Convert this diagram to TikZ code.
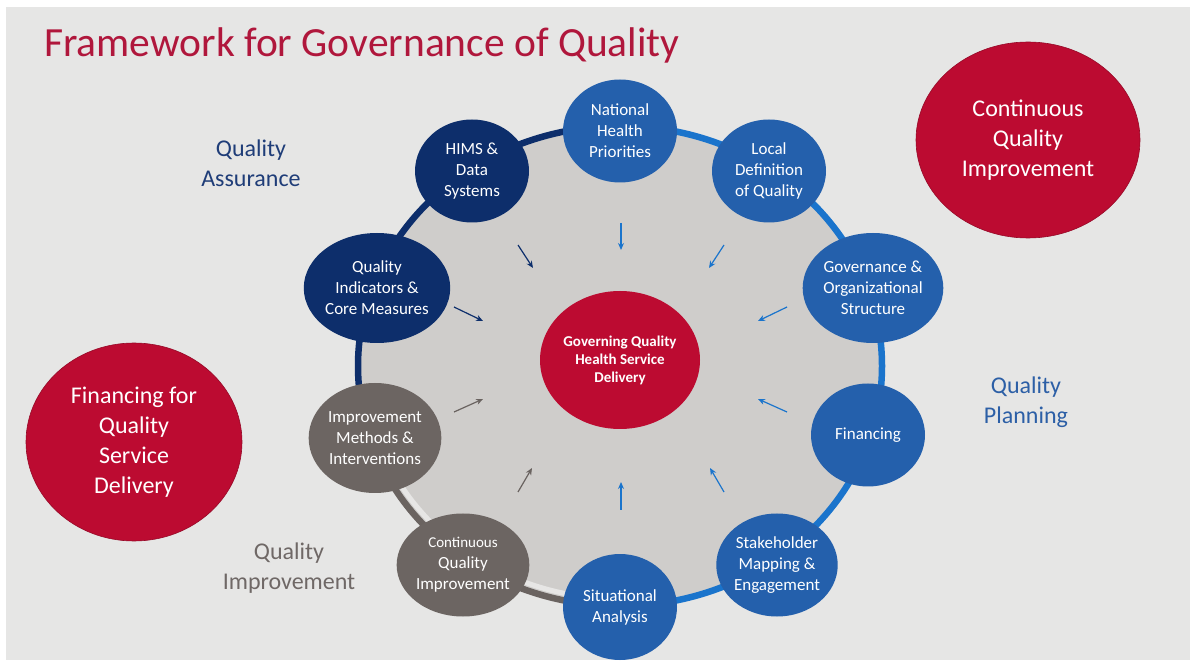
\documentclass[tikz,border=0pt]{standalone}
\usepackage{fontspec}
\setmainfont{Carlito}
\usetikzlibrary{shapes.geometric,arrows.meta}
\definecolor{bgpanel}{HTML}{E6E6E5}
\definecolor{discfill}{HTML}{CFCDCB}
\definecolor{navy}{HTML}{0D2E6B}
\definecolor{ringblue}{HTML}{1A74CC}
\definecolor{nodeblue}{HTML}{2460AC}
\definecolor{stone}{HTML}{6C6562}
\definecolor{ringstone}{HTML}{6A6360}
\definecolor{crimson}{HTML}{BC0B31}
\definecolor{titlered}{HTML}{B0173C}
\definecolor{qablue}{HTML}{1F3D78}
\definecolor{qpblue}{HTML}{2C5FA6}
\definecolor{qigray}{HTML}{6F6866}
\tikzset{
  petal/.style={ellipse, minimum width=114pt, minimum height=103pt, inner sep=0pt,
    text=white, align=center, font=\fontsize{17}{21}\selectfont},
  bigdisc/.style={ellipse, fill=crimson, draw=crimson!80!black, line width=0.6pt, inner sep=0pt,
    text=white, align=center, font=\fontsize{24}{30}\selectfont},
  sidelabel/.style={align=center, font=\fontsize{24}{30}\selectfont},
  ringline/.style={line width=6.5pt},
  arr/.style={line width=1.2pt, -{Stealth[length=7pt,width=6pt]}},
}
\begin{document}
\begin{tikzpicture}[x=1pt,y=1pt]
\useasboundingbox (0,0) rectangle (1200,670);
\fill[white] (0,0) rectangle (1200,670);
\fill[bgpanel] (6,10) rectangle (1190,663);

% title
\node[anchor=west, text=titlered, font=\fontsize{41.5}{46}\selectfont, inner sep=0pt] (title) at (44,625) {Framework for Governance of Quality};

% ring
\coordinate (C) at (620,304);
\fill[discfill] (C) ellipse[x radius=262pt, y radius=240pt];
\draw[white, opacity=0.5, line width=5pt] (C) ++(200:255pt and 233pt) arc[start angle=200, end angle=262, x radius=255pt, y radius=233pt];
\draw[ringline, ringblue] (C) ++(-90:262pt and 240pt) arc[start angle=-90, end angle=90, x radius=262pt, y radius=240pt];
\draw[ringline, navy] (C) ++(90:262pt and 240pt) arc[start angle=90, end angle=197, x radius=262pt, y radius=240pt];
\draw[ringline, ringstone] (C) ++(197:262pt and 240pt) arc[start angle=197, end angle=270, x radius=262pt, y radius=240pt];

% side labels
\node[sidelabel, text=qablue] (qa) at (251,507) {Quality\\Assurance};
\node[sidelabel, text=qpblue] (qp) at (1026,268) {Quality\\Planning};
\node[sidelabel, text=qigray] (qi) at (289,102) {Quality\\Improvement};

% big red discs
\node[bigdisc, minimum width=224pt, minimum height=196pt] (cqibig) at (1028,530) {Continuous\\Quality\\Improvement};
\node[bigdisc, minimum width=216pt, minimum height=198pt] (fin4q) at (134,228) {Financing for\\Quality\\Service\\Delivery};

% center
\node[ellipse, fill=crimson, minimum width=160pt, minimum height=138pt, inner sep=0pt, text=white, align=center,
  font=\fontsize{15}{18}\selectfont\bfseries] (core) at (620,310) {Governing Quality\\Health Service\\Delivery};

% arrows
\foreach \i/\ax/\ay/\bx/\by/\c in {
  1/518/425/533/402/navy, 2/621/447/621/420/ringblue, 3/724/425/709/402/ringblue,
  4/787/363/758/349/ringblue, 5/454/363/483/349/navy, 6/454/258/483/271/ringstone,
  7/787/258/758/271/ringblue, 8/518/178/532/202/ringstone, 9/621/160/621/188/ringblue,
  10/724/178/710/202/ringblue}{
  \coordinate (s\i) at (\ax,\ay);
  \coordinate (e\i) at (\bx,\by);
  \draw[arr, \c] (s\i) -- (e\i);
}

% petals
\node[petal, fill=nodeblue] (nhp) at (620,539) {National\\Health\\Priorities};
\node[petal, fill=nodeblue] (ldq) at (769,499) {Local\\Definition\\of Quality};
\node[petal, fill=nodeblue, minimum width=122pt, minimum height=110pt] (gov) at (873,382) {Governance \&\\Organizational\\Structure};
\node[petal, fill=nodeblue] (fin) at (868,235) {Financing};
\node[petal, fill=nodeblue] (stk) at (777,105) {Stakeholder\\Mapping \&\\Engagement};
\node[petal, fill=nodeblue, minimum height=106pt] (sit) at (620,63) {Situational\\Analysis};
\node[petal, fill=stone] (cqi) at (463,105) {\fontsize{15}{20}\selectfont Continuous\\Quality\\Improvement};
\node[petal, fill=stone, minimum width=120pt, minimum height=110pt] (imi) at (375,232) {Improvement\\Methods \&\\Interventions};
\node[petal, fill=navy, minimum width=124pt, minimum height=110pt] (qicm) at (377,382) {Quality\\Indicators \&\\Core Measures};
\node[petal, fill=navy] (hims) at (472,499) {HIMS \&\\Data\\Systems};
\end{tikzpicture}
\end{document}
